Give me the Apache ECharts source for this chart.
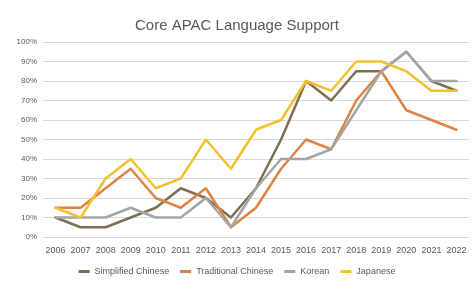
<!DOCTYPE html>
<html>
<head>
<meta charset="utf-8">
<script src="https://cdn.jsdelivr.net/npm/echarts@6/dist/echarts.min.js"></script>
<style>
  html, body { margin: 0; padding: 0; background: #fff; }
  #chart { width: 474px; height: 286px; }
</style>
</head>
<body>
<div id="chart"></div>
<script>
// years on the x axis
var years = ['2006','2007','2008','2009','2010','2011','2012','2013','2014','2015','2016','2017','2018','2019','2020','2021','2022'];
// % support per year
var simplified = [10, 5, 5, 10, 15, 25, 20, 10, 25, 50, 80, 70, 85, 85, 95, 80, 75];
var traditional = [15, 15, 25, 35, 20, 15, 25, 5, 15, 35, 50, 45, 70, 85, 65, 60, 55];
var korean = [10, 10, 10, 15, 10, 10, 20, 5, 25, 40, 40, 45, 65, 85, 95, 80, 80];
var japanese = [15, 10, 30, 40, 25, 30, 50, 35, 55, 60, 80, 75, 90, 90, 85, 75, 75];

var txt = '#595959';
var font = '"Liberation Sans", Arial, sans-serif';

function line(name, data, color) {
  return {
    name: name,
    type: 'line',
    data: data,
    symbol: 'none',
    lineStyle: { width: 2.5, color: color, cap: 'round', join: 'round' },
    itemStyle: { color: color }
  };
}

var chart = echarts.init(document.getElementById('chart'));
chart.setOption({
  animation: false,
  textStyle: { fontFamily: font },
  title: {
    text: 'Core APAC Language Support',
    left: 'center',
    top: 13,
    textStyle: { fontSize: 15, fontWeight: 'normal', color: txt, fontFamily: font }
  },
  grid: { left: 43, right: 5, top: 42, bottom: 49 },
  legend: {
    bottom: 5,
    itemWidth: 11,
    itemHeight: 3,
    itemGap: 11,
    icon: 'rect',
    textStyle: { fontSize: 9, color: txt, fontFamily: font },
    data: ['Simplified Chinese', 'Traditional Chinese', 'Korean', 'Japanese']
  },
  xAxis: {
    type: 'category',
    data: years,
    boundaryGap: true,
    axisLine: { lineStyle: { color: '#d9d9d9' } },
    axisTick: { show: false },
    axisLabel: { fontSize: 9, color: txt, margin: 9, interval: 0 }
  },
  yAxis: {
    type: 'value',
    min: 0,
    max: 100,
    interval: 10,
    axisLine: { show: false },
    axisTick: { show: false },
    splitLine: { lineStyle: { color: '#d9d9d9' } },
    axisLabel: { fontSize: 8, color: txt, margin: 6, formatter: '{value}%' }
  },
  series: [
    line('Simplified Chinese', simplified, '#7d6f50'),
    line('Traditional Chinese', traditional, '#dd8344'),
    line('Korean', korean, '#a5a5a5'),
    line('Japanese', japanese, '#f2c12e')
  ]
});
</script>
</body>
</html>
